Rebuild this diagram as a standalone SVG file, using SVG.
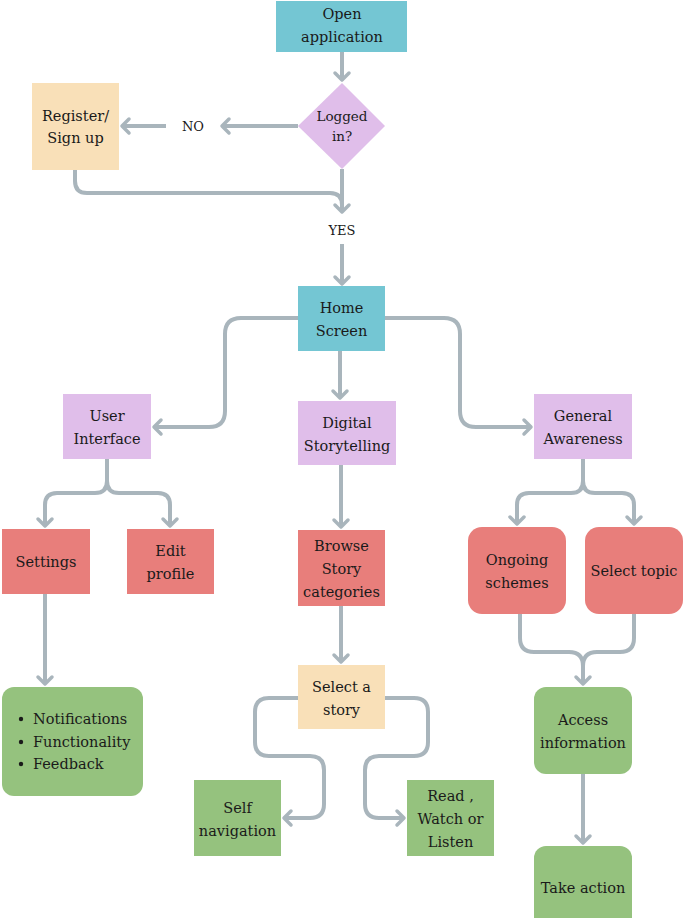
<svg xmlns="http://www.w3.org/2000/svg" width="685" height="918" viewBox="0 0 685 918">
<style>
.t{font-family:"DejaVu Serif","Liberation Serif",serif;font-size:14.5px;fill:#1a1a1a;text-anchor:middle}
.d{font-size:13.5px}
.s{font-size:13px}
.l{text-anchor:start}
.teal{fill:#74C6D3}
.lav{fill:#E0BEEA}
.peach{fill:#F9E0B8}
.red{fill:#E87E7B}
.green{fill:#95C27E}
.c path{fill:none;stroke:#A9B5BC;stroke-width:4;stroke-linecap:butt;stroke-linejoin:round}
</style>
<defs>
<marker id="ah" markerUnits="userSpaceOnUse" markerWidth="20" markerHeight="20" viewBox="-10 -10 20 20" refX="0" refY="0" orient="auto">
<path d="M-7,-7 L0,0 L-7,7" fill="none" stroke="#A9B5BC" stroke-width="3.5" stroke-linecap="round" stroke-linejoin="round"/>
</marker>
</defs>
<rect width="685" height="918" fill="#ffffff"/>
<g id="connectors" class="c">
<path d="M342,52 V80" marker-end="url(#ah)"/>
<path d="M298,126 H222" marker-end="url(#ah)"/>
<path d="M166,126 H122" marker-end="url(#ah)"/>
<path d="M75,170 V181 Q75,193 87,193 H330 Q342,193 342,205 V212"/>
<path d="M342,169 V212" marker-end="url(#ah)"/>
<path d="M342,244 V284" marker-end="url(#ah)"/>
<path d="M298,318 H241 Q225,318 225,334 V411 Q225,427 209,427 H154" marker-end="url(#ah)"/>
<path d="M385,318 H444 Q460,318 460,334 V411 Q460,427 476,427 H531" marker-end="url(#ah)"/>
<path d="M340,351 V398" marker-end="url(#ah)"/>
<path d="M107,459 V481 Q107,493 95,493 H57 Q45,493 45,505 V526" marker-end="url(#ah)"/>
<path d="M107,481 Q107,493 119,493 H158 Q170,493 170,505 V526" marker-end="url(#ah)"/>
<path d="M583,459 V481 Q583,493 571,493 H529 Q517,493 517,505 V524" marker-end="url(#ah)"/>
<path d="M583,481 Q583,493 595,493 H622 Q634,493 634,505 V524" marker-end="url(#ah)"/>
<path d="M341,465 V527" marker-end="url(#ah)"/>
<path d="M45,594 V684" marker-end="url(#ah)"/>
<path d="M341,606 V662" marker-end="url(#ah)"/>
<path d="M298,698 H269 Q255,698 255,712 V742 Q255,756 269,756 H310 Q324,756 324,770 V804 Q324,818 310,818 H284" marker-end="url(#ah)"/>
<path d="M385,698 H414 Q428,698 428,712 V742 Q428,756 414,756 H379 Q365,756 365,770 V804 Q365,818 379,818 H404" marker-end="url(#ah)"/>
<path d="M520,614 V638 Q520,652 534,652 H569 Q583,652 583,666 V684" marker-end="url(#ah)"/>
<path d="M634,614 V638 Q634,652 620,652 H597 Q583,652 583,666"/>
<path d="M583,774 V843" marker-end="url(#ah)"/>
</g>
<g id="open-application">
<rect class="teal" x="276" y="1" width="131" height="51"/>
<text class="t" x="342" y="19">Open</text>
<text class="t" x="342" y="42">application</text>
</g>
<g id="logged-in">
<polygon class="lav" points="342,83 385,126 342,169 298,126"/>
<text class="t d" x="342" y="121">Logged</text>
<text class="t d" x="342" y="141">in?</text>
</g>
<g id="label-no"><text class="t s" x="193" y="131">NO</text></g>
<g id="register">
<rect class="peach" x="32" y="83" width="87" height="87"/>
<text class="t" x="75.5" y="121">Register/</text>
<text class="t" x="75.5" y="143">Sign up</text>
</g>
<g id="label-yes"><text class="t s" x="342" y="235">YES</text></g>
<g id="home-screen">
<rect class="teal" x="298" y="286" width="87" height="65"/>
<text class="t" x="341.5" y="313">Home</text>
<text class="t" x="341.5" y="336">Screen</text>
</g>
<g id="user-interface">
<rect class="lav" x="63" y="394" width="88" height="65"/>
<text class="t" x="107" y="421">User</text>
<text class="t" x="107" y="444">Interface</text>
</g>
<g id="digital-storytelling">
<rect class="lav" x="298" y="401" width="98" height="64"/>
<text class="t" x="347" y="427.5">Digital</text>
<text class="t" x="347" y="450.5">Storytelling</text>
</g>
<g id="general-awareness">
<rect class="lav" x="534" y="394" width="98" height="65"/>
<text class="t" x="583" y="421">General</text>
<text class="t" x="583" y="444">Awareness</text>
</g>
<g id="settings">
<rect class="red" x="2" y="529" width="88" height="65"/>
<text class="t" x="46" y="567">Settings</text>
</g>
<g id="edit-profile">
<rect class="red" x="127" y="529" width="87" height="65"/>
<text class="t" x="170.5" y="556">Edit</text>
<text class="t" x="170.5" y="579">profile</text>
</g>
<g id="browse-story-categories">
<rect class="red" x="298" y="530" width="87" height="76"/>
<text class="t" x="341.5" y="551">Browse</text>
<text class="t" x="341.5" y="574">Story</text>
<text class="t" x="341.5" y="597">categories</text>
</g>
<g id="ongoing-schemes">
<rect class="red" x="468" y="527" width="98" height="87" rx="14"/>
<text class="t" x="517" y="565">Ongoing</text>
<text class="t" x="517" y="588">schemes</text>
</g>
<g id="select-topic">
<rect class="red" x="585" y="527" width="98" height="87" rx="14"/>
<text class="t" x="634" y="576">Select topic</text>
</g>
<g id="notifications-list">
<rect class="green" x="2" y="687" width="141" height="109" rx="12"/>
<circle cx="21" cy="719" r="2.2" fill="#1a1a1a"/>
<circle cx="21" cy="742" r="2.2" fill="#1a1a1a"/>
<circle cx="21" cy="764" r="2.2" fill="#1a1a1a"/>
<text class="t l" x="33" y="724">Notifications</text>
<text class="t l" x="33" y="747">Functionality</text>
<text class="t l" x="33" y="769">Feedback</text>
</g>
<g id="select-a-story">
<rect class="peach" x="298" y="665" width="87" height="64"/>
<text class="t" x="341.5" y="691.5">Select a</text>
<text class="t" x="341.5" y="714.5">story</text>
</g>
<g id="self-navigation">
<rect class="green" x="194" y="780" width="87" height="76"/>
<text class="t" x="237.5" y="812.5">Self</text>
<text class="t" x="237.5" y="835.5">navigation</text>
</g>
<g id="read-watch-listen">
<rect class="green" x="407" y="780" width="87" height="76"/>
<text class="t" x="450.5" y="801">Read ,</text>
<text class="t" x="450.5" y="824">Watch or</text>
<text class="t" x="450.5" y="847">Listen</text>
</g>
<g id="access-information">
<rect class="green" x="534" y="687" width="98" height="87" rx="12"/>
<text class="t" x="583" y="725">Access</text>
<text class="t" x="583" y="748">information</text>
</g>
<g id="take-action">
<rect class="green" x="534" y="846" width="98" height="84" rx="12"/>
<text class="t" x="583" y="893">Take action</text>
</g>
</svg>
